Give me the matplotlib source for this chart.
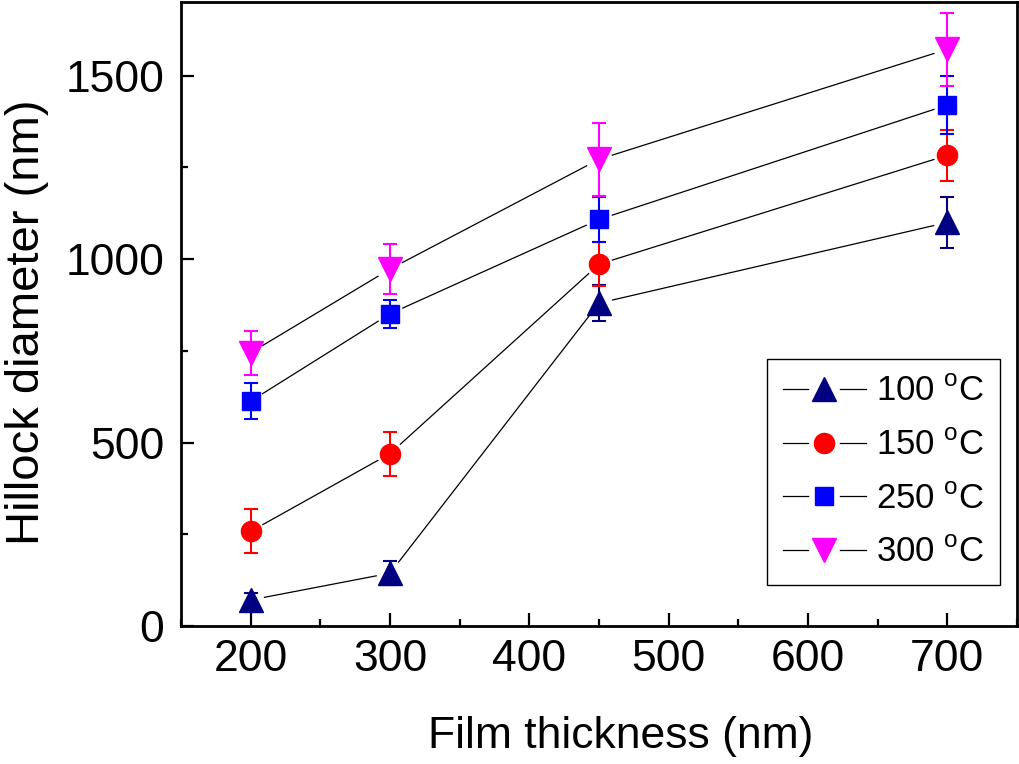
import numpy as np
import matplotlib
matplotlib.use('Agg')
import matplotlib.pyplot as plt
from matplotlib.lines import Line2D
from matplotlib.ticker import MultipleLocator

plt.rcParams['font.family'] = ['Liberation Sans', 'DejaVu Sans']
plt.rcParams['mathtext.fontset'] = 'custom'
plt.rcParams['mathtext.rm'] = 'Liberation Sans'

# data
thickness = [200, 300, 450, 700]
d100 = [71, 144, 880, 1100]
e100 = [20, 32, 50, 70]
d150 = [258, 470, 986, 1283]
e150 = [60, 60, 60, 70]
d250 = [613, 851, 1108, 1420]
e250 = [50, 38, 60, 80]
d300 = [745, 973, 1272, 1572]
e300 = [60, 68, 100, 100]

labels = ['100 $^{\\mathrm{o}}$C', '150 $^{\\mathrm{o}}$C',
          '250 $^{\\mathrm{o}}$C', '300 $^{\\mathrm{o}}$C']
series = [d100, d150, d250, d300]
errs = [e100, e150, e250, e300]
colors = ['#000080', '#ff0000', '#0000ff', '#ff00ff']
markers = ['^', 'o', 's', 'v']
msizes = [17, 14.5, 13, 17]

fig = plt.figure(figsize=(10.2, 7.64), dpi=100)
ax = fig.add_axes([0.1775, 0.1806, 0.8195, 0.8164])
ax.set_xlim(150, 750)
ax.set_ylim(0, 1700)

gap = 14  # px gap between line and symbol (Origin style)
inv = ax.transData.inverted()

def gapped_line(xs, ys):
    pts = ax.transData.transform(np.column_stack([xs, ys]))
    for p0, p1 in zip(pts[:-1], pts[1:]):
        d = p1 - p0
        u = d / np.hypot(*d)
        a = inv.transform(p0 + u * gap)
        b = inv.transform(p1 - u * gap)
        ax.plot([a[0], b[0]], [a[1], b[1]], color='k', lw=0.9, zorder=1)

handles = []
for y, e, c, m, ms, lab in zip(series, errs, colors, markers, msizes, labels):
    gapped_line(thickness, y)
    ax.errorbar(thickness, y, yerr=e, fmt='none', ecolor=c, elinewidth=1.5,
                capsize=4.7, capthick=1.5, zorder=2)
    ax.plot(thickness, y, ls='none', marker=m, ms=ms, color=c, zorder=3)
    h = (Line2D([], [], color='k', lw=0.9),
         Line2D([], [], ls='none', marker='o', ms=21, mfc='white', mec='white'),
         Line2D([], [], ls='none', marker=m, ms=ms, color=c))
    handles.append(h)

leg = ax.legend(handles, labels, loc='lower left', bbox_to_anchor=(0.701, 0.0657),
                borderaxespad=0, fontsize=25, handlelength=2.4, handletextpad=0.3,
                labelspacing=0.6, fancybox=False, framealpha=1, edgecolor='k',
                borderpad=0.45)
leg.get_frame().set_linewidth(1.0)

ax.xaxis.set_major_locator(MultipleLocator(100))
ax.xaxis.set_minor_locator(MultipleLocator(50))
ax.yaxis.set_major_locator(MultipleLocator(500))
ax.yaxis.set_minor_locator(MultipleLocator(250))
ax.tick_params(axis='both', which='major', direction='in', length=9.5, width=1.6,
               labelsize=32)
ax.tick_params(axis='both', which='minor', direction='in', length=5, width=1.6)
ax.tick_params(axis='x', pad=9)
ax.tick_params(axis='y', pad=12)
for s in ax.spines.values():
    s.set_linewidth(2)

ax.set_xlabel('Film thickness (nm)', fontsize=32)
ax.set_ylabel('Hillock diameter (nm)', fontsize=34)
ax.xaxis.set_label_coords(0.526, -0.145)
ax.yaxis.set_label_coords(-0.158, 0.487)

plt.savefig('out.png', dpi=100)
